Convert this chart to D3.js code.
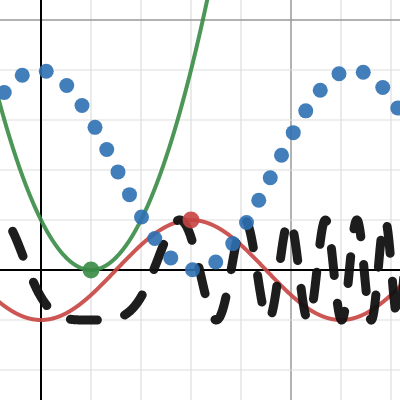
<!DOCTYPE html>
<html><head><meta charset="utf-8">
<script src="https://cdn.jsdelivr.net/npm/d3@7"></script>
<style>body{margin:0;background:#fff}svg{display:block}</style>
</head><body><svg id="chart"></svg>
<script>
const W = 400, H = 400;
const xDomain = [-0.82, 7.18];
const yDomain = [-2.6, 5.4];
// curve parameters
const parabola = [1, 1, 0];         // a*(x-h)^2 + k : [a, h, k]
const redWave = [-1, Math.PI / 3];  // amp*cos(w*x)
const blueWave = [2, 2, 0.05];      // off + amp*cos(x + phase)
const blackChirp = [-1, 1];         // amp*cos((x-c)^2)
const pointsXY = [[1, 0, "#388c46"], [3, 1, "#c74440"]];

const svg = d3.select('#chart').attr('width', W).attr('height', H);
const x = d3.scaleLinear().domain(xDomain).range([0, W]);
const y = d3.scaleLinear().domain(yDomain).range([H, 0]);

// grid
const gx = d3.range(Math.ceil(xDomain[0]), Math.floor(xDomain[1]) + 1);
const gy = d3.range(Math.ceil(yDomain[0]), Math.floor(yDomain[1]) + 1);
svg.selectAll('.vg').data(gx).join('line')
    .attr('x1', d => x(d)).attr('x2', d => x(d)).attr('y1', 0).attr('y2', H)
    .attr('stroke', d => d % 5 === 0 ? '#999' : '#ddd').attr('stroke-width', d => d % 5 === 0 ? 1.5 : 1.2);
svg.selectAll('.hg').data(gy).join('line')
    .attr('y1', d => y(d)).attr('y2', d => y(d)).attr('x1', 0).attr('x2', W)
    .attr('stroke', d => d % 5 === 0 ? '#999' : '#ddd').attr('stroke-width', d => d % 5 === 0 ? 1.5 : 1.2);
svg.append('line').attr('x1', x(0)).attr('x2', x(0)).attr('y1', 0).attr('y2', H).attr('stroke', '#000').attr('stroke-width', 2);
svg.append('line').attr('y1', y(0)).attr('y2', y(0)).attr('x1', 0).attr('x2', W).attr('stroke', '#000').attr('stroke-width', 2);

const xs = d3.range(xDomain[0] - 0.2, xDomain[1] + 0.2, 0.005);
const line = d3.line().x(d => x(d[0])).y(d => y(d[1]));
const sample = f => xs.map(v => [v, f(v)]);

const fGreen = v => parabola[0] * (v - parabola[1]) ** 2 + parabola[2];
const fRed = v => redWave[0] * Math.cos(redWave[1] * v);
const fBlue = v => blueWave[0] + blueWave[1] * Math.cos(v + blueWave[2]);
const fBlack = v => blackChirp[0] * Math.cos((v - blackChirp[1]) ** 2);

const g = svg.append('g');
g.append('path').attr('d', line(sample(fGreen).filter(d => d[1] < 8)))
    .attr('fill', 'none').attr('stroke', '#388c46').attr('stroke-width', 4).attr('opacity', 0.9);
g.append('path').attr('d', line(sample(fRed)))
    .attr('fill', 'none').attr('stroke', '#c74440').attr('stroke-width', 4).attr('opacity', 0.9);
g.append('path').attr('d', line(xs.filter(v => v >= -0.6).map(v => [v, fBlack(v)])))
    .attr('fill', 'none').attr('stroke', '#111').attr('stroke-width', 9)
    .attr('stroke-linecap', 'round').attr('stroke-dasharray', '27 28')
    .attr('stroke-dashoffset', -3).attr('opacity', 0.95);

// blue dotted curve: dots spaced evenly along pixel arc length
const bluePts = sample(fBlue).map(d => [x(d[0]), y(d[1])]);
const dots = [];
let acc = 0;
dots.push(bluePts[0]);
for (let i = 1; i < bluePts.length; i++) {
    acc += Math.hypot(bluePts[i][0] - bluePts[i - 1][0], bluePts[i][1] - bluePts[i - 1][1]);
    if (acc >= 25) { dots.push(bluePts[i]); acc = 0; }
}
g.selectAll('.dot').data(dots).join('circle')
    .attr('cx', d => d[0]).attr('cy', d => d[1]).attr('r', 7.5)
    .attr('fill', '#2d70b3').attr('opacity', 0.9);

svg.selectAll('.pt').data(pointsXY).join('circle')
    .attr('cx', d => x(d[0])).attr('cy', d => y(d[1])).attr('r', 8.5)
    .attr('fill', d => d[2]).attr('opacity', 0.9);
</script></body></html>
